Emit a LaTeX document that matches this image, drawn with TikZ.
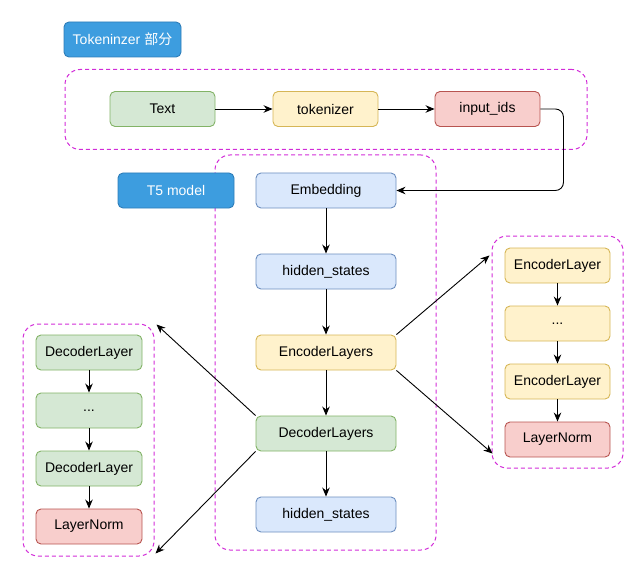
\documentclass[tikz,border=0pt]{standalone}
\usepackage{fontspec}
\setmainfont{Liberation Sans}
\newfontfamily\cjk{Noto Sans CJK SC}
\usetikzlibrary{arrows.meta,calc}
\definecolor{grnF}{HTML}{D5E8D4}\definecolor{grnD}{HTML}{82B366}
\definecolor{yelF}{HTML}{FFF2CC}\definecolor{yelD}{HTML}{D6B656}
\definecolor{redF}{HTML}{F8CECC}\definecolor{redD}{HTML}{B85450}
\definecolor{bluF}{HTML}{DAE8FC}\definecolor{bluD}{HTML}{6C8EBF}
\definecolor{ttlF}{HTML}{3D9DDF}\definecolor{ttlD}{HTML}{2E7DB8}
\definecolor{grpD}{HTML}{D22CD8}
\begin{document}
\begin{tikzpicture}[x=1pt,y=-1pt,
  font=\fontsize{14}{16}\selectfont,
  box/.style={draw, rounded corners=5pt, line width=0.9pt, inner sep=0pt, minimum height=35pt},
  wide/.style={box, minimum width=140pt},
  small/.style={box, minimum width=105pt},
  gf/.style={fill=grnF, draw=grnD}, yf/.style={fill=yelF, draw=yelD},
  rf/.style={fill=redF, draw=redD}, bf/.style={fill=bluF, draw=bluD},
  ttl/.style={box, fill=ttlF, draw=ttlD, text=white},
  grp/.style={draw=grpD, dash pattern=on 4pt off 3pt, line width=1pt, rounded corners=15pt, inner sep=0pt},
  arr/.style={draw=black, line width=0.9pt, -{Stealth[length=9pt,width=7.5pt]}}]
\useasboundingbox (0,0) rectangle (642,572);

% groups
\node[grp, minimum width=522pt, minimum height=80pt] (tokgrp) at (326,109.5) {};
\node[grp, minimum width=221pt, minimum height=395pt] (t5grp) at (325.5,352.5) {};
\node[grp, minimum width=131pt, minimum height=232pt] (encgrp) at (557.5,352) {};
\node[grp, minimum width=131pt, minimum height=232pt] (decgrp) at (88.5,440) {};

% titles
\node[ttl, minimum width=117pt] (ttok) at (122.5,39.5) {Tokeninzer {\cjk 部分}};
\node[ttl, minimum width=116pt] (tt5) at (176,190.5) {T5 model};

% tokenizer part
\node[small, gf] (text) at (162.5,109) {Text};
\node[small, yf] (tok) at (325.5,109) {tokenizer};
\node[small, rf] (ids) at (487.5,109) {input\_ids};

% T5 main column
\node[wide, bf] (emb) at (326,190.5) {Embedding};
\node[wide, bf] (hs1) at (326,271.5) {hidden\_states};
\node[wide, yf] (enc) at (326,352.5) {EncoderLayers};
\node[wide, gf] (dec) at (326,433.5) {DecoderLayers};
\node[wide, bf] (hs2) at (326,514.5) {hidden\_states};

% encoder detail
\node[small, yf] (e1) at (557.5,265.5) {EncoderLayer};
\node[small, yf] (e2) at (557.5,323.5) {...};
\node[small, yf] (e3) at (557.5,381.5) {EncoderLayer};
\node[small, rf] (eln) at (557.5,439.5) {LayerNorm};

% decoder detail
\node[small, gf, minimum width=106pt] (d1) at (89,352.5) {DecoderLayer};
\node[small, gf, minimum width=106pt] (d2) at (89,410.5) {...};
\node[small, gf, minimum width=106pt] (d3) at (89,468.5) {DecoderLayer};
\node[small, rf, minimum width=106pt] (dln) at (89,526.5) {LayerNorm};

% connectors
\draw[arr] (text) -- (tok);
\draw[arr] (tok) -- (ids);
\draw[arr, rounded corners=8pt] (ids.east) -- ($(ids.east)+(23,0)$) |- (emb.east);
\draw[arr] (emb) -- (hs1);
\draw[arr] (hs1) -- (enc);
\draw[arr] (enc) -- (dec);
\draw[arr] (dec) -- (hs2);
\draw[arr] (e1) -- (e2);
\draw[arr] (e2) -- (e3);
\draw[arr] (e3) -- (eln);
\draw[arr] (d1) -- (d2);
\draw[arr] (d2) -- (d3);
\draw[arr] (d3) -- (dln);
\draw[arr] (enc.north east) -- ($(encgrp.north west)+(-2,20)$);
\draw[arr] (enc.south east) -- ($(encgrp.south west)+(1,-15)$);
\draw[arr] (dec.north west) -- ($(decgrp.north east)+(2,1)$);
\draw[arr] (dec.south west) -- ($(decgrp.south east)+(1,-3)$);
\end{tikzpicture}
\end{document}
